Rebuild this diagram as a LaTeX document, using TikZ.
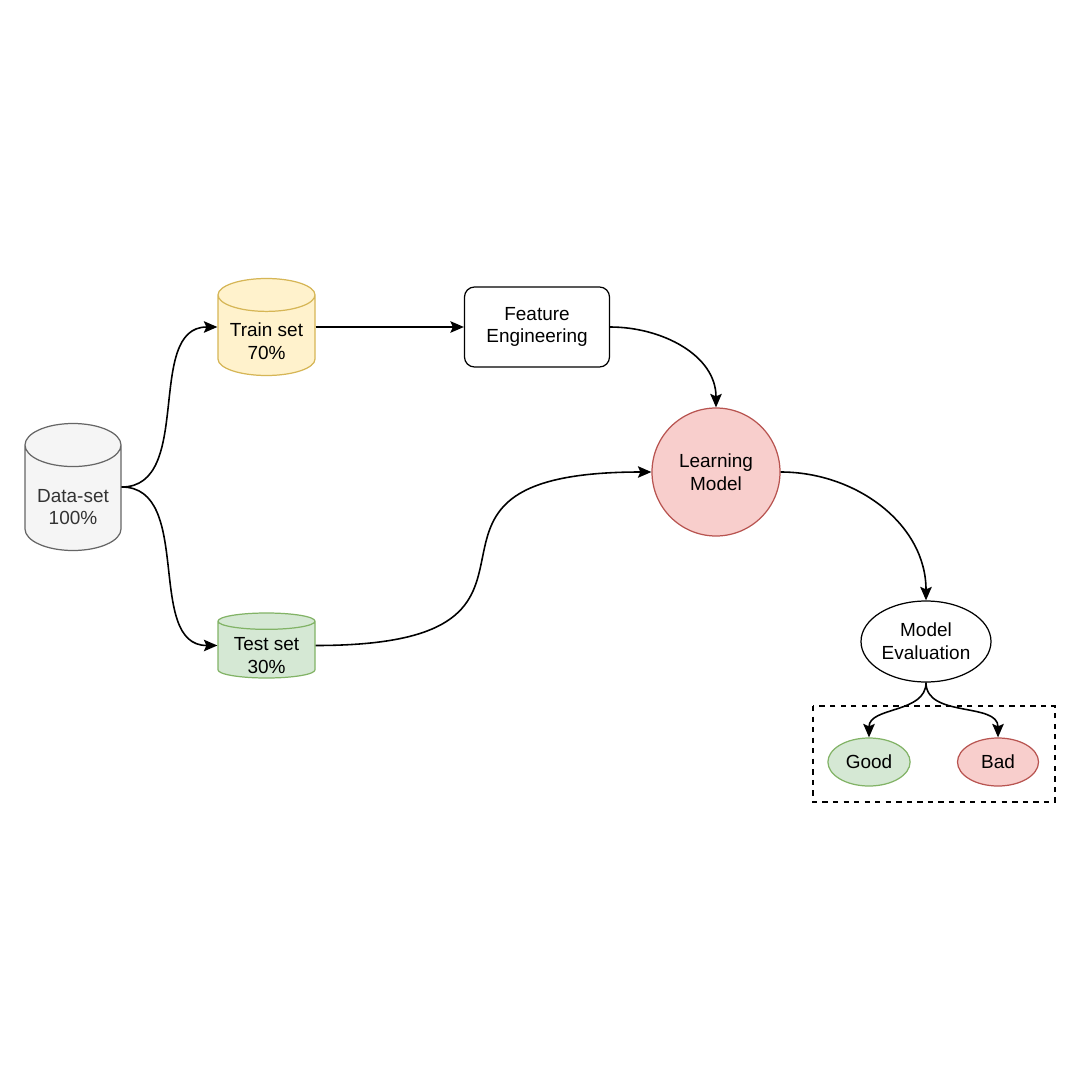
\documentclass[tikz,border=0pt]{standalone}
\usepackage{fontspec}
\setmainfont{Liberation Sans}
\usetikzlibrary{arrows.meta}
\usetikzlibrary{shapes.geometric}
\usetikzlibrary{positioning}
\tikzset{>={Stealth[length=0.27cm, width=0.23cm, inset=0.05cm]}}

\definecolor{greyfill}{HTML}{F5F5F5}
\definecolor{greyline}{HTML}{666666}
\definecolor{greytext}{HTML}{333333}
\definecolor{yellowfill}{HTML}{FFF2CC}
\definecolor{yellowline}{HTML}{D6B656}
\definecolor{greenfill}{HTML}{D5E8D4}
\definecolor{greenline}{HTML}{82B366}
\definecolor{redfill}{HTML}{F8CECC}
\definecolor{redline}{HTML}{B85450}

\tikzset{
  dbase/.style={cylinder, shape border rotate=90, draw, line width=0.7pt,
    align=center, inner sep=0pt, anchor=shape center},
  dbtext/.style={align=center, inner sep=0pt},
  flow/.style={->, line width=0.9pt},
}

\begin{document}
\begin{tikzpicture}[font=\fontsize{10.8}{13}\selectfont]
    \useasboundingbox[fill=white] (0, 0) rectangle (21.6, -21.6);

    % Draw the data sets (the text sits low in each drum).
    \node[dbase, draw=greyline, fill=greyfill, minimum width=1.92cm,
      minimum height=2.54cm, aspect=0.6] (data) at (1.46, -9.74) {\phantom{Data-set}\\\phantom{100\%}};
    \node[dbtext, text=greytext] (datatext) at ([yshift=-0.4cm]data.shape center) {Data-set\\100\%};
    \node[dbase, draw=yellowline, fill=yellowfill, minimum width=1.94cm,
      minimum height=1.94cm, aspect=0.45] (train) at (5.33, -6.54) {\phantom{Train set}\\\phantom{70\%}};
    \node[dbtext] (traintext) at ([yshift=-0.28cm]train.shape center) {Train set\\70\%};
    \node[dbase, draw=greenline, fill=greenfill, minimum width=1.94cm,
      minimum height=1.30cm, aspect=0.25] (test) at (5.33, -12.91) {\phantom{Test set}\\\phantom{30\%}};
    \node[dbtext] (testtext) at ([yshift=-0.2cm]test.shape center) {Test set\\30\%};

    % Draw the model part.
    \node[draw, rounded corners=0.2cm, line width=0.7pt, align=center,
      minimum width=2.9cm, minimum height=1.6cm] (feat) at (10.74, -6.54) {Feature\\Engineering};
    \node[circle, draw=redline, fill=redfill, line width=0.7pt, align=center,
      minimum size=2.56cm] (learn) at (14.32, -9.44) {Learning\\Model};
    \node[ellipse, draw, line width=0.7pt, align=center, inner sep=0pt,
      minimum width=2.6cm, minimum height=1.62cm] (eval) at (18.52, -12.83) {Model\\Evaluation};

    % Draw the outcomes.
    \node[ellipse, draw=greenline, fill=greenfill, line width=0.7pt,
      minimum width=1.62cm, minimum height=0.96cm] (good) at (17.38, -15.24) {Good};
    \node[ellipse, draw=redline, fill=redfill, line width=0.7pt,
      minimum width=1.62cm, minimum height=0.96cm] (bad) at (19.96, -15.24) {Bad};
    \draw[dashed, line width=0.7pt] (16.26, -14.12) rectangle (21.1, -16.04);

    % Draw the connectors.
    \draw[flow] (data.shape center -| data.east) to[out=0, in=180] (train.shape center -| train.west);
    \draw[flow] (data.shape center -| data.east) to[out=0, in=180] (test.shape center -| test.west);
    \draw[flow] (train.shape center -| train.east) -- (feat.west);
    \draw[flow] (feat.east) to[out=0, in=90] (learn.north);
    \draw[flow] (test.shape center -| test.east) to[out=0, in=180, looseness=2] (learn.west);
    \draw[flow] (learn.east) to[out=0, in=90] (eval.north);
    \draw[flow] (eval.south) to[out=-90, in=90] (good.north);
    \draw[flow] (eval.south) to[out=-90, in=90] (bad.north);
\end{tikzpicture}
\end{document}
